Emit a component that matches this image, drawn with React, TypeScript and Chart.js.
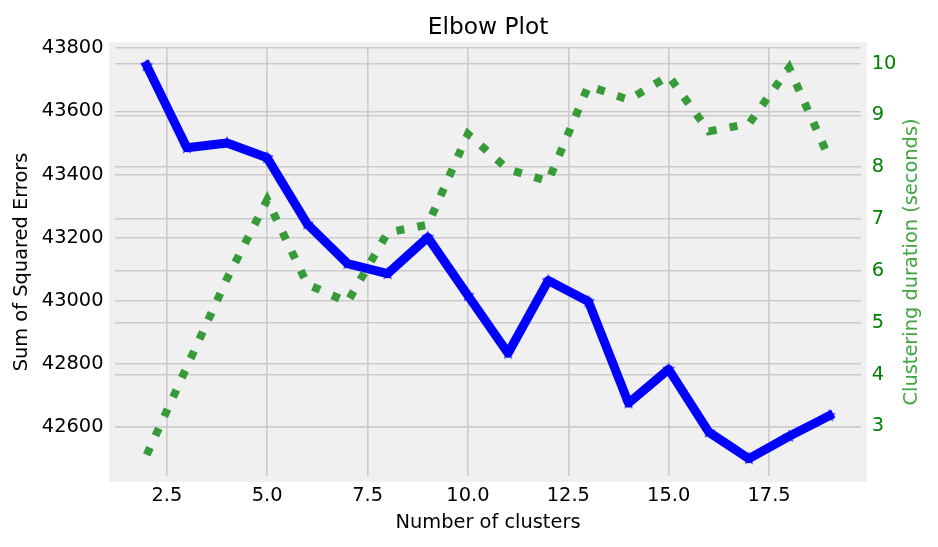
import { useEffect, useRef } from "react";
import { Chart, registerables } from "chart.js";

Chart.register(...registerables);

// number of clusters tried
const clusters = [2, 3, 4, 5, 6, 7, 8, 9, 10, 11, 12, 13, 14, 15, 16, 17, 18, 19];
// sum of squared errors (left axis)
const sse = [
  43745, 43485, 43500, 43453, 43243, 43118, 43086, 43201, 43017, 42834, 43064, 42998, 42676,
  42783, 42584, 42500, 42571, 42636,
];
// clustering duration in seconds (right axis)
const durations = [
  2.45, 4.15, 5.85, 7.37, 5.74, 5.4, 6.74, 6.89, 8.64, 7.96, 7.73, 9.57, 9.3, 9.76, 8.69, 8.84,
  9.92, 8.17,
];
const xTicks = [2.5, 5, 7.5, 10, 12.5, 15, 17.5];
const sseTicks = [42600, 42800, 43000, 43200, 43400, 43600, 43800];
const durationTicks = [3, 4, 5, 6, 7, 8, 9, 10];

const FONT = "'DejaVu Sans', sans-serif";
const GRID = "#cbcbcb";
const GREEN_LINE = "#389b3a";
const GREEN_LABEL = "#41a541";

function makeStar(r: number, color: string) {
  const size = Math.ceil(r * 2) + 2;
  const c = document.createElement("canvas");
  c.width = size;
  c.height = size;
  const g = c.getContext("2d")!;
  g.fillStyle = color;
  g.beginPath();
  for (let i = 0; i < 10; i++) {
    const rad = i % 2 === 0 ? r : r * 0.382;
    const a = -Math.PI / 2 + (i * Math.PI) / 5;
    g.lineTo(size / 2 + rad * Math.cos(a), size / 2 + rad * Math.sin(a));
  }
  g.closePath();
  g.fill();
  return c;
}

const panelBg = {
  id: "panelBg",
  beforeDraw(chart: Chart) {
    const { ctx, chartArea: a, width, height } = chart;
    ctx.save();
    ctx.fillStyle = "#ffffff";
    ctx.fillRect(0, 0, width, height);
    ctx.fillStyle = "#f0f0f0";
    ctx.fillRect(a.left - 6, a.top - 6, a.right - a.left + 12, a.bottom - a.top + 12);
    ctx.restore();
  },
};

// matplotlib reads the right-hand label bottom to top
const rightTitle = {
  id: "rightTitle",
  afterDraw(chart: Chart) {
    const { ctx, chartArea: a, width } = chart;
    ctx.save();
    ctx.translate(width - 26, (a.top + a.bottom) / 2);
    ctx.rotate(-Math.PI / 2);
    ctx.font = `19.4px ${FONT}`;
    ctx.fillStyle = GREEN_LABEL;
    ctx.textAlign = "center";
    ctx.textBaseline = "middle";
    ctx.fillText("Clustering duration (seconds)", 0, 0);
    ctx.restore();
  },
};

export default function App() {
  const canvasRef = useRef<HTMLCanvasElement>(null);
  const chartRef = useRef<Chart | null>(null);

  useEffect(() => {
    if (!canvasRef.current) return;
    const star = makeStar(7, "#0000ff");
    const tickFont = { family: FONT, size: 19.4 };

    chartRef.current?.destroy();
    chartRef.current = new Chart(canvasRef.current, {
      type: "line",
      data: {
        datasets: [
          {
            label: "Clustering duration",
            data: clusters.map((x, i) => ({ x, y: durations[i] })),
            yAxisID: "y2",
            borderColor: GREEN_LINE,
            borderWidth: 8,
            borderDash: [8, 13.2],
            borderCapStyle: "butt",
            borderJoinStyle: "miter",
            pointRadius: 0,
            tension: 0,
            order: 0,
          },
          {
            label: "Sum of Squared Errors",
            data: clusters.map((x, i) => ({ x, y: sse[i] })),
            yAxisID: "y",
            borderColor: "#0000ff",
            backgroundColor: "#0000ff",
            borderWidth: 9,
            borderJoinStyle: "round",
            borderCapStyle: "square",
            pointStyle: star,
            pointRadius: 7,
            tension: 0,
            order: 1,
          },
        ],
      },
      options: {
        responsive: true,
        maintainAspectRatio: false,
        animation: false,
        layout: { padding: 0 },
        plugins: {
          legend: { display: false },
          tooltip: { enabled: false },
          title: {
            display: true,
            text: "Elbow Plot",
            color: "#000000",
            fullSize: false,
            font: { family: FONT, size: 23.3, weight: "normal" },
            padding: { top: 14, bottom: 6 },
          },
        },
        scales: {
          x: {
            type: "linear",
            position: "bottom",
            min: 1.21,
            max: 19.79,
            afterBuildTicks: (s) => {
              s.ticks = xTicks.map((value) => ({ value }));
            },
            afterFit: (s) => {
              s.height = 71;
            },
            grid: { color: GRID, lineWidth: 1.6, drawTicks: false },
            border: { display: false },
            ticks: {
              color: "#000000",
              font: tickFont,
              padding: 8,
              autoSkip: false,
              maxRotation: 0,
              callback: (v) => Number(v).toFixed(1),
            },
            title: {
              display: true,
              text: "Number of clusters",
              color: "#000000",
              font: tickFont,
              padding: { top: 0, bottom: 12.7 },
            },
          },
          y: {
            type: "linear",
            position: "left",
            min: 42445,
            max: 43801,
            afterBuildTicks: (s) => {
              s.ticks = sseTicks.map((value) => ({ value }));
            },
            afterFit: (s) => {
              s.width = 115;
            },
            grid: { color: GRID, lineWidth: 1.6, drawTicks: false },
            border: { display: false },
            ticks: {
              color: "#000000",
              font: tickFont,
              padding: 11.5,
              callback: (v) => String(v),
            },
            title: {
              display: true,
              text: "Sum of Squared Errors",
              color: "#000000",
              font: tickFont,
              padding: { top: 10.4, bottom: 0 },
            },
          },
          y2: {
            type: "linear",
            position: "right",
            min: 2.044,
            max: 10.3,
            afterBuildTicks: (s) => {
              s.ticks = durationTicks.map((value) => ({ value }));
            },
            afterFit: (s) => {
              s.width = 77;
            },
            grid: { color: GRID, lineWidth: 1.6, drawTicks: false },
            border: { display: false },
            ticks: {
              color: "#008000",
              font: tickFont,
              padding: 10.7,
              callback: (v) => String(v),
            },
          },
        },
      },
      plugins: [panelBg, rightTitle],
    });

    return () => {
      chartRef.current?.destroy();
      chartRef.current = null;
    };
  }, []);

  return (
    <div style={{ position: "fixed", left: 0, top: 0, width: "938px", height: "547px", background: "#ffffff" }}>
      <canvas ref={canvasRef} />
    </div>
  );
}
